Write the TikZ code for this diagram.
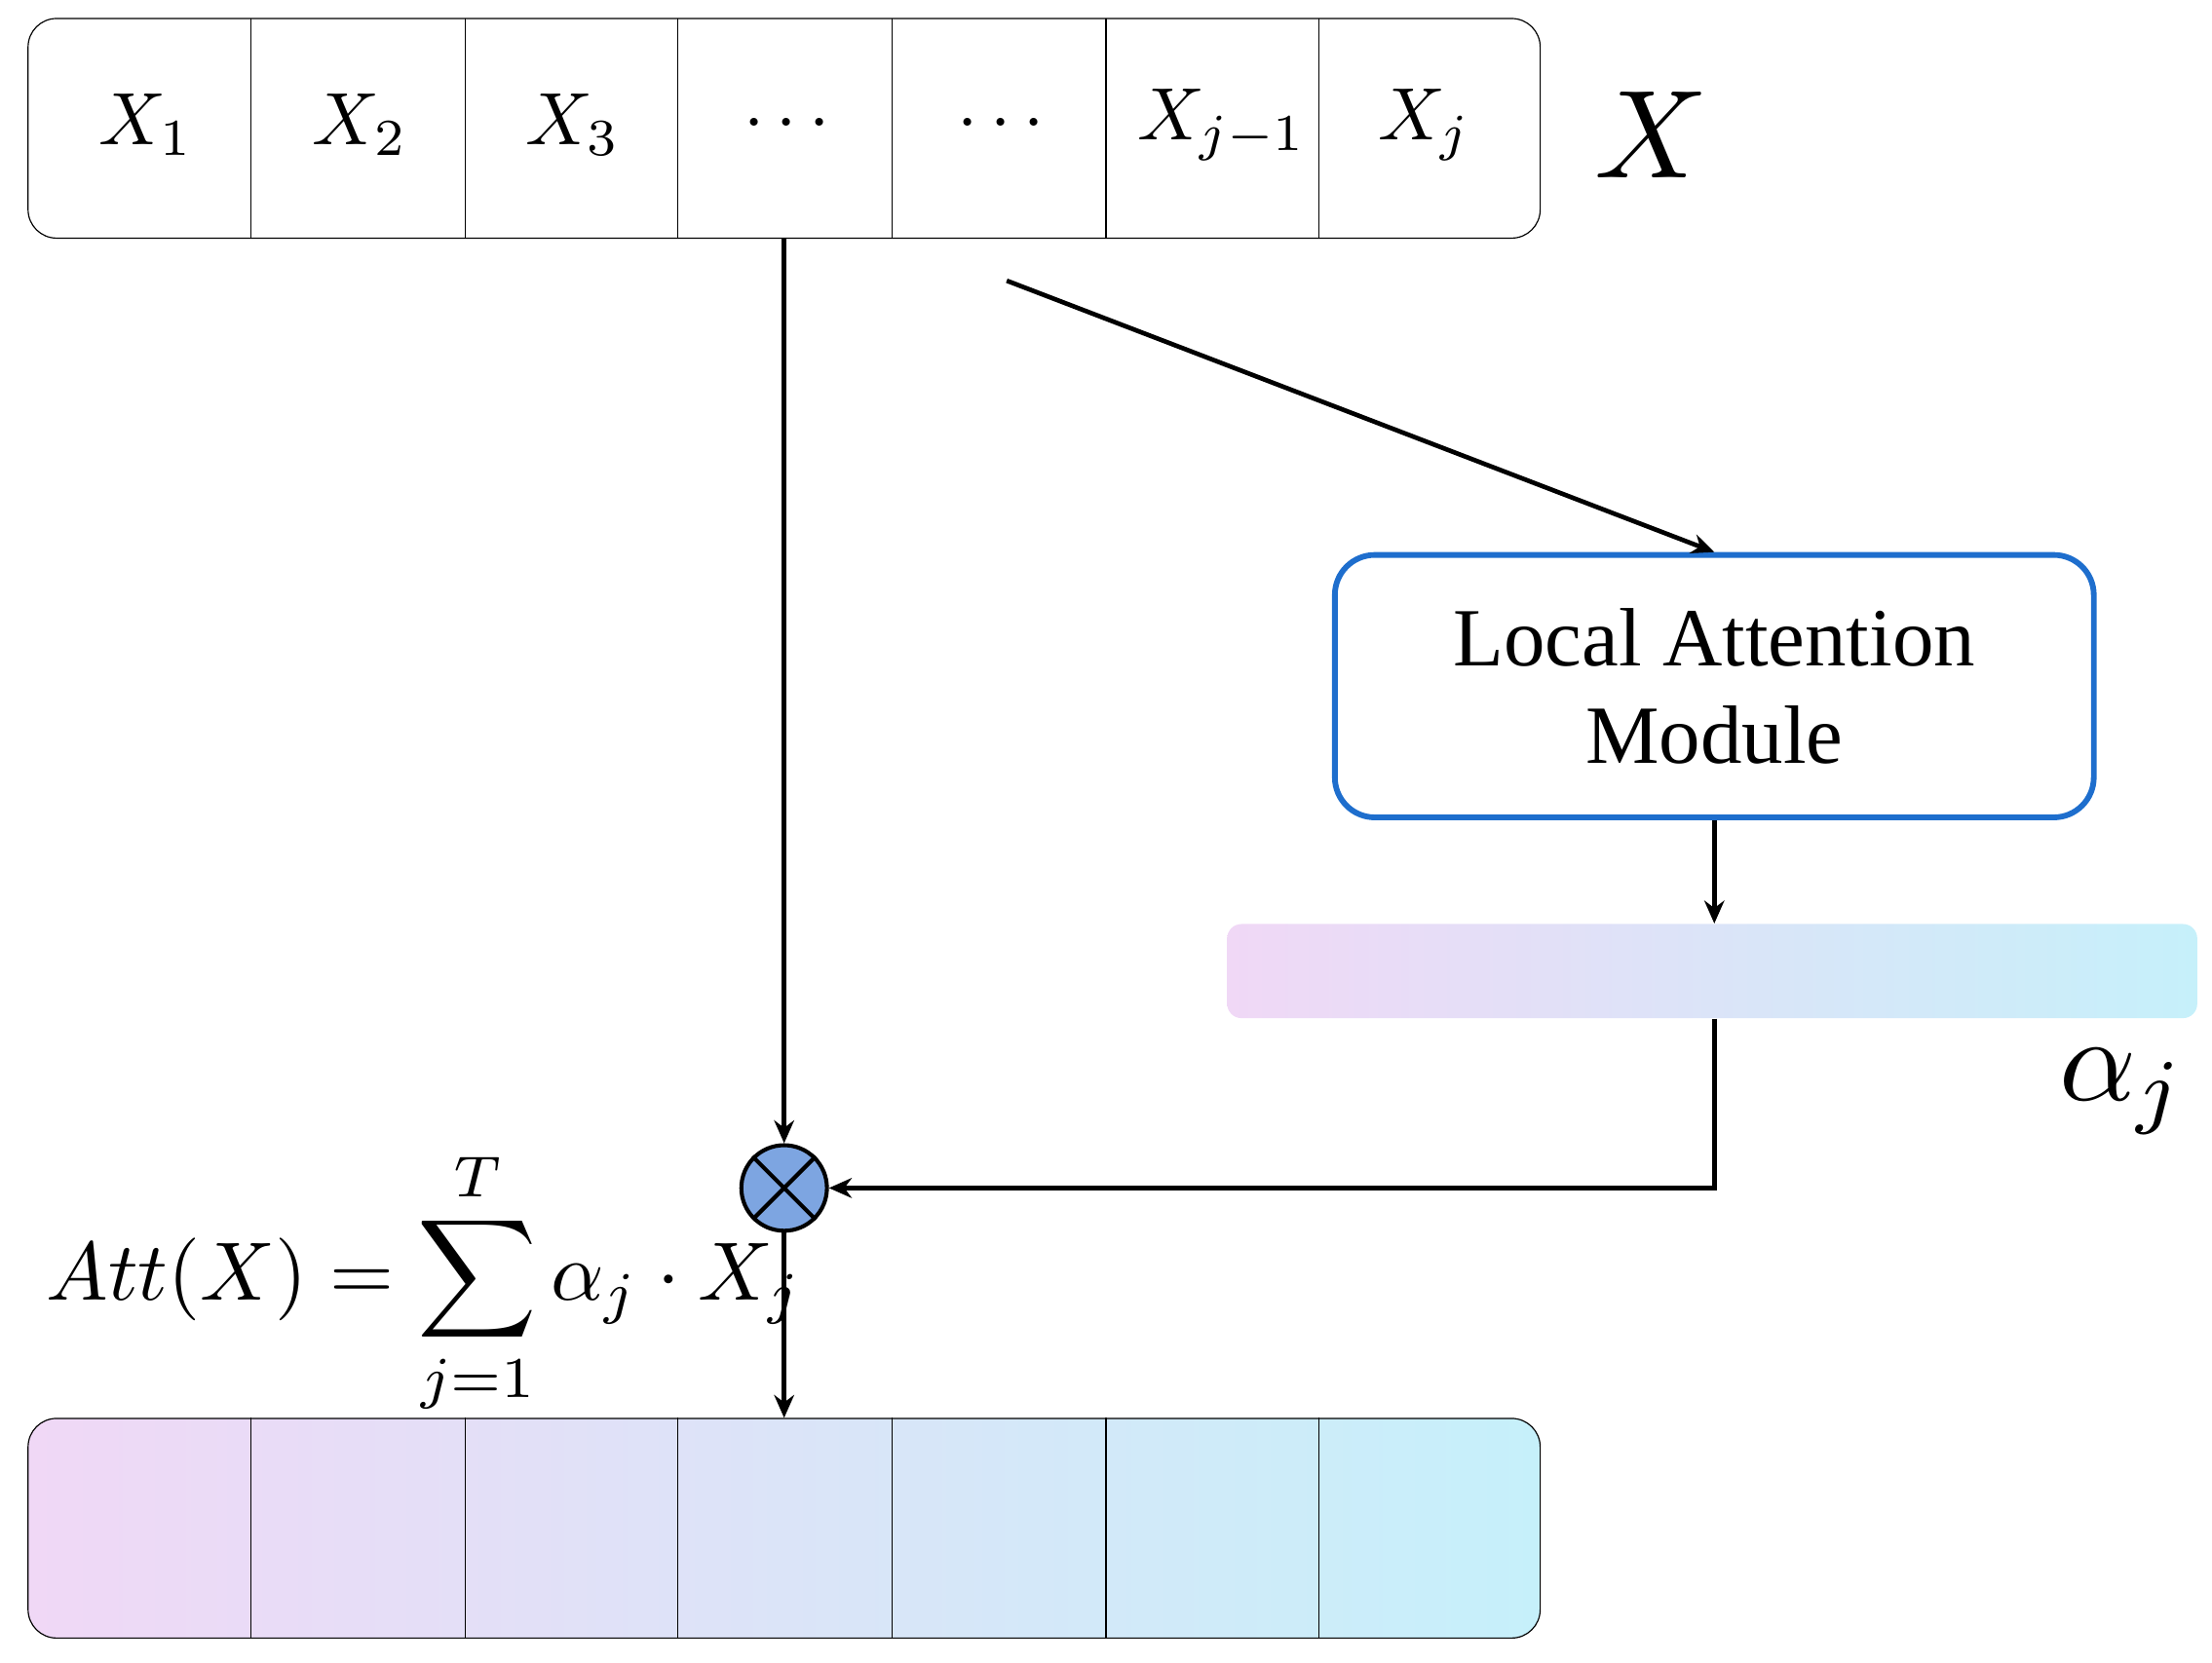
\documentclass[tikz,border=0pt]{standalone}
\usepackage{fontspec}
\setmainfont{Liberation Serif}
\usetikzlibrary{arrows.meta}
\definecolor{lampink}{RGB}{240,216,246}
\definecolor{lamcyan}{RGB}{198,240,250}
\definecolor{lamblue}{RGB}{30,110,205}
\definecolor{lamdot}{RGB}{125,165,225}
\begin{document}
\begin{tikzpicture}[x=0.497pt,y=-0.497pt,
  bar/.style={draw,rounded corners=10pt,minimum width=530pt,minimum height=77pt,inner sep=0pt},
  cell/.style={scale=2.6},
  arr/.style={line width=1.6pt,-{Stealth[length=8pt,width=7pt]}}]
\useasboundingbox (0,0) rectangle (1560,1173);
% top bar
\node[bar] (top) at (553,90.5) {};
\foreach \x in {177,328,478,629,780,930}
  \draw[line width=0.5pt] (\x,13) -- (\x,168);
\node[cell] (c1) at (103,88) {$X_{1}$};
\node[cell] (c2) at (254,88) {$X_{2}$};
\node[cell] (c3) at (404,88) {$X_{3}$};
\node[cell] (c4) at (555,88) {$\cdots$};
\node[cell] (c5) at (706,88) {$\cdots$};
\node[cell] (c6) at (862,88) {$X_{j-1}$};
\node[cell] (c7) at (1005,88) {$X_{j}$};
\node[scale=4.4] (xl) at (1165,95) {$X$};
% local attention module
\node[draw=lamblue,line width=2pt,rounded corners=14pt,minimum width=266pt,minimum height=92pt,align=center,
  font=\fontsize{29}{34}\selectfont] (lam) at (1209,484) {Local Attention\\ Module};
\coordinate (from) at (710,198);
\draw[arr] (from) -- (lam.north);
% alpha bar
\node[rounded corners=5pt,left color=lampink,right color=lamcyan,minimum width=340pt,minimum height=33pt,inner sep=0pt] (ab) at (1207.5,685) {};
\draw[arr] (lam.south) -- (lam.south |- ab.north);
\node[scale=4.2] (al) at (1497,770) {$\alpha_{j}$};
% multiplier
\node[circle,draw,fill=lamdot,line width=1.4pt,minimum size=30pt,inner sep=0pt] (mul) at (553,838) {};
\draw[line width=1.4pt] (mul.north west) -- (mul.south east) (mul.north east) -- (mul.south west);
\draw[arr] (553,168) -- (mul.north);
\draw[arr] (ab.south -| lam.south) -- (1209,838) -- (mul.east);
% bottom bar
\node[bar,left color=lampink,right color=lamcyan] (bot) at (553,1078) {};
\foreach \x in {177,328,478,629,780,930}
  \draw[line width=0.5pt] (\x,1000) -- (\x,1156);
\draw[arr] (mul.south) -- (bot.north);
\node[anchor=west,scale=2.9] (eq) at (12,905) {$\displaystyle Att(X)=\sum_{j=1}^{T}\alpha_{j}\cdot X_{j}$};
\end{tikzpicture}
\end{document}
